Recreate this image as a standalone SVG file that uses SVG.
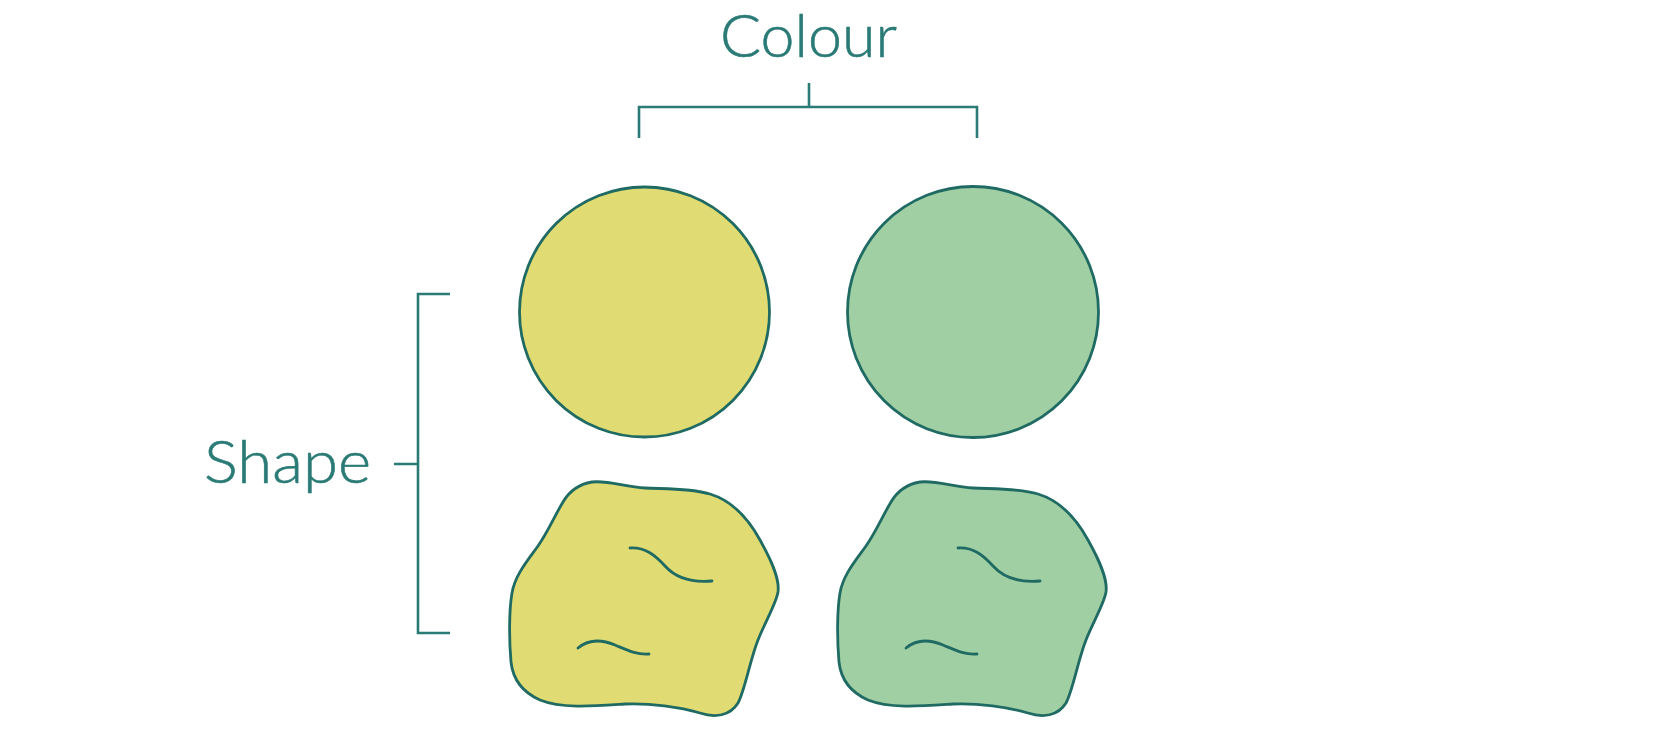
<svg xmlns="http://www.w3.org/2000/svg" width="1662" height="729" viewBox="0 0 1662 729">
<style>
.lbl{font-family:"Lato","Open Sans","Liberation Sans",sans-serif;font-weight:300;font-size:60px;fill:#2A7A76;stroke:#2A7A76;stroke-width:0.6}
.br{fill:none;stroke:#2A7A76;stroke-width:2.6;stroke-linecap:butt}
.sh{stroke:#1F6B63;stroke-width:2.8}
.yel{fill:#E0DB73}
.grn{fill:#A1CFA4}
.sq{fill:none;stroke:#1F6B63;stroke-width:2.8;stroke-linecap:round}
</style>
<defs>
<path id="blob" d="M592,482 C608,480 625,487 645,488 C665,489 690,488 710,494 C733,501 748,518 760,540 C770,558 780,578 778,592 C776,604 765,622 758,640 C750,660 745,690 738,703 C730,716 715,718 700,713 C680,707 650,703 625,704 C595,706 562,709 540,700 C522,692 513,680 511,662 C509,640 509,610 512,593 C515,575 528,560 538,546 C548,532 555,515 563,502 C570,490 580,484 592,482 Z"/>
<g id="squiggles">
<path class="sq" d="M630,548 C645,547 655,555 665,566 C675,577 690,583 712,581"/>
<path class="sq" d="M578,648 C590,638 603,640 615,645 C627,650 636,655 649,654"/>
</g>
</defs>
<rect width="1662" height="729" fill="#FFFFFF"/>
<g id="connectors">
<path class="br" d="M639,138 V107 H977 V138 M809,83 V107"/>
<path class="br" d="M450,294 H418 V633 H450 M394,464 H418"/>
</g>
<g id="label-colour"><text class="lbl" x="720" y="57" textLength="177" lengthAdjust="spacingAndGlyphs">Colour</text></g>
<g id="label-shape"><text class="lbl" x="204" y="483" textLength="167" lengthAdjust="spacingAndGlyphs">Shape</text></g>
<g id="circle-yellow"><circle class="yel sh" cx="644.5" cy="312" r="125"/></g>
<g id="circle-green"><circle class="grn sh" cx="973" cy="312" r="125.5"/></g>
<g id="blob-yellow"><use href="#blob" class="yel sh"/><use href="#squiggles"/></g>
<g id="blob-green" transform="translate(328,0)"><use href="#blob" class="grn sh"/><use href="#squiggles"/></g>
</svg>
